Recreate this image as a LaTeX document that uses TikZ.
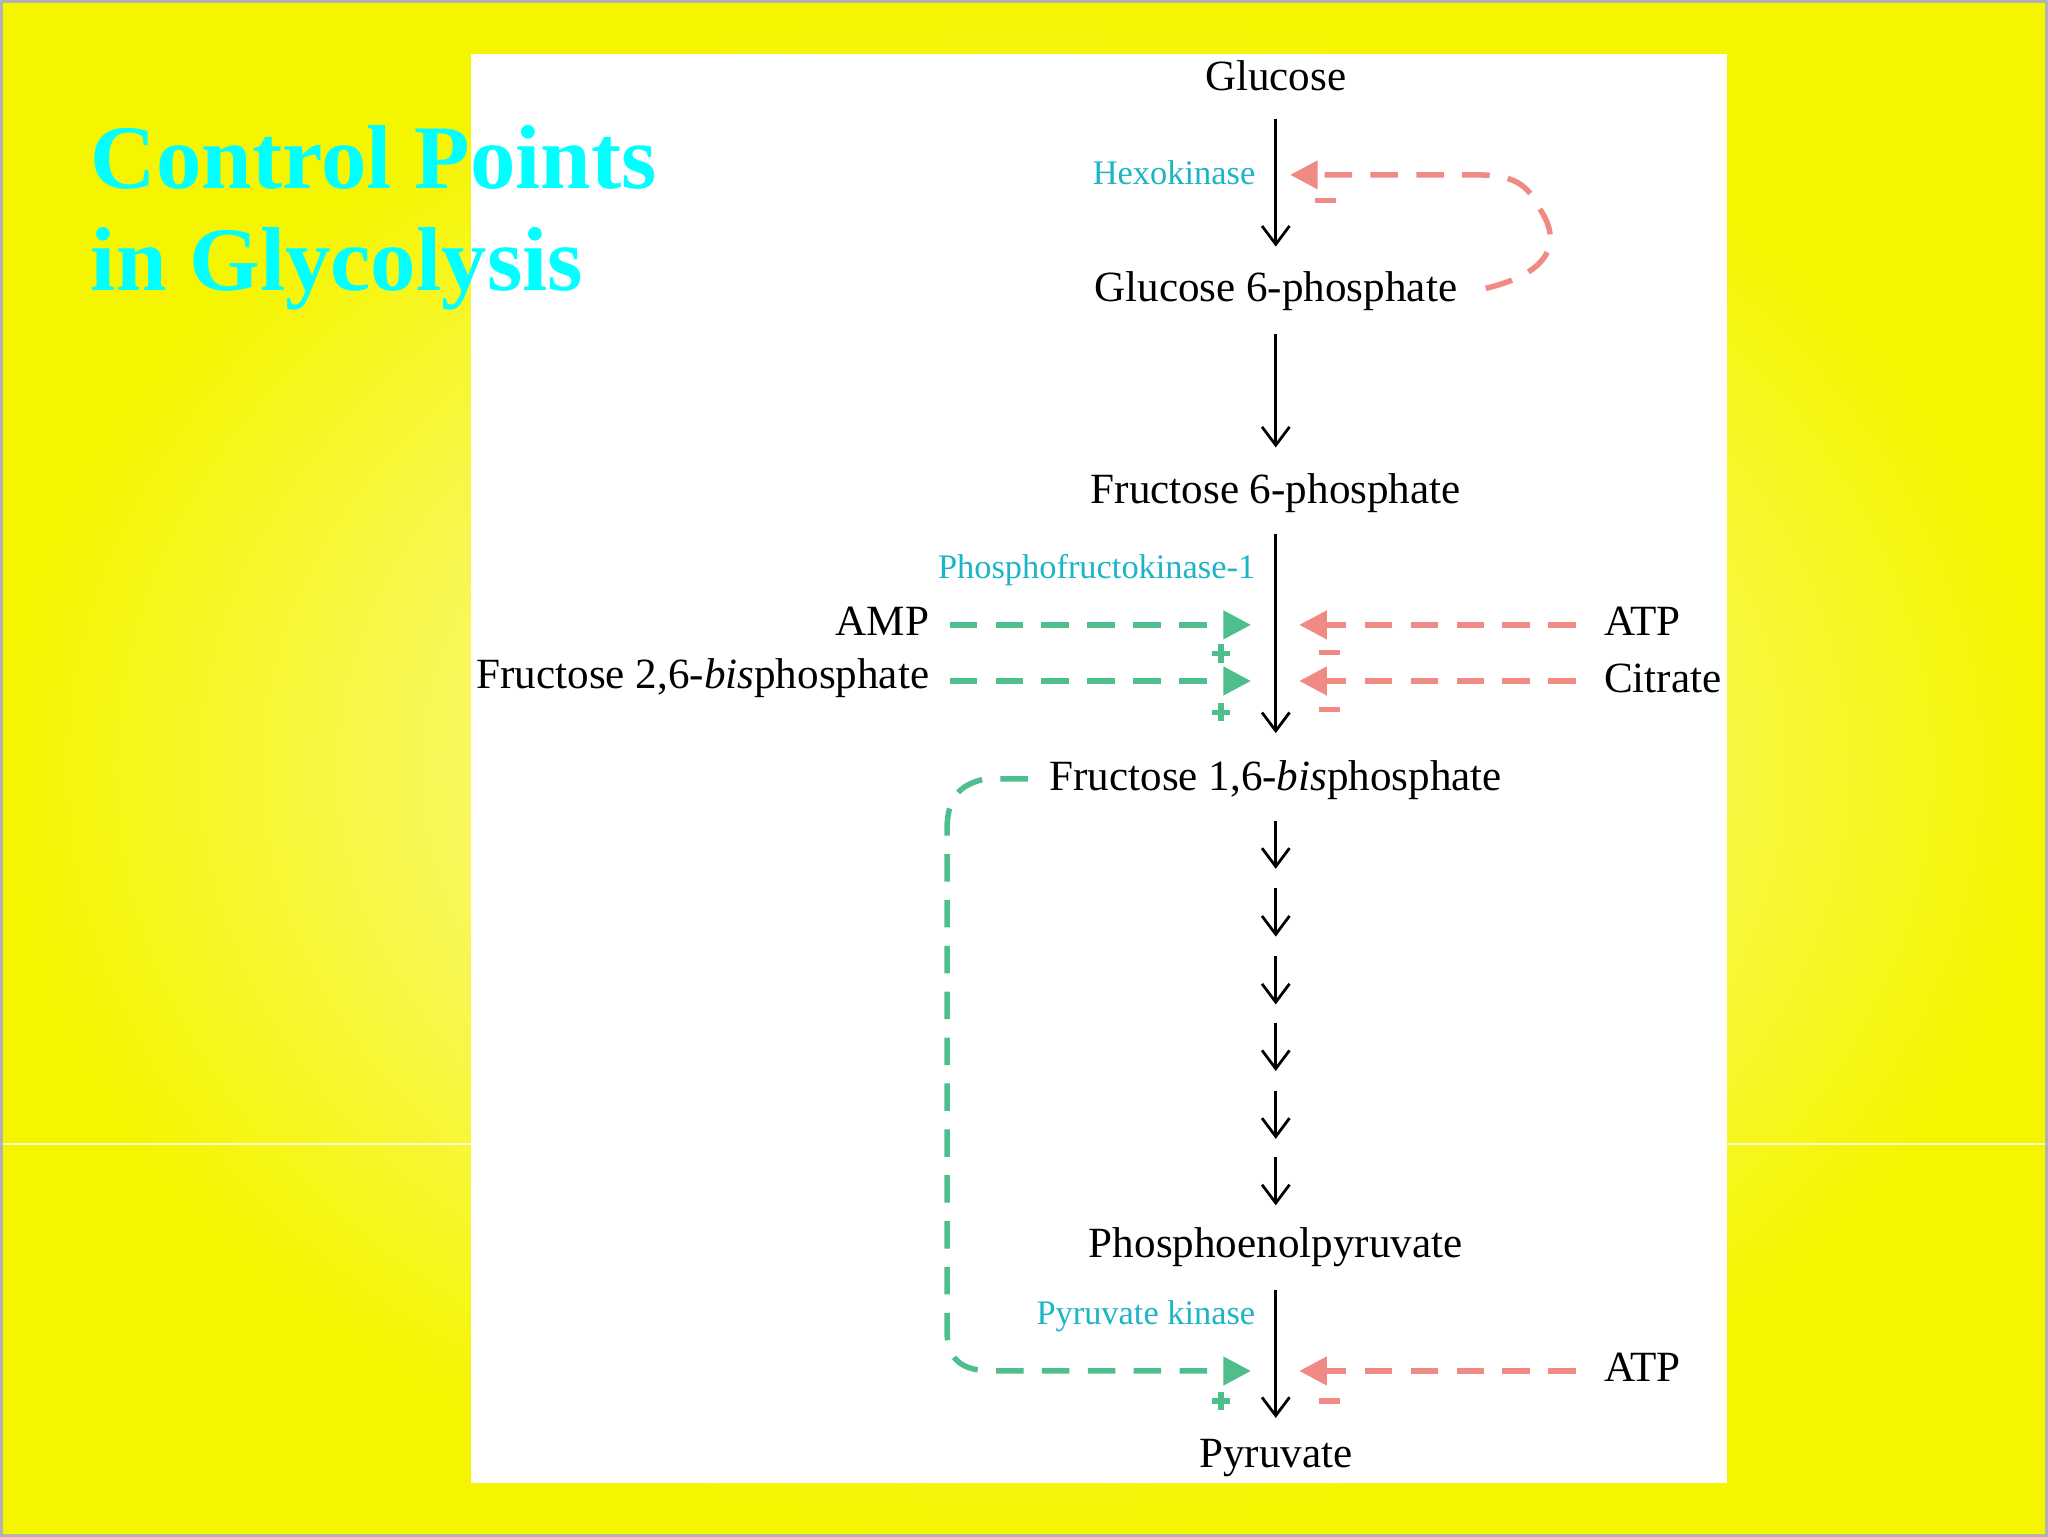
\documentclass[tikz,border=0pt]{standalone}
\usepackage{fontspec}
\setmainfont{Liberation Serif}
\usetikzlibrary{arrows.meta}
\definecolor{pinkr}{HTML}{F08A84}
\definecolor{greeng}{HTML}{4DBE8C}
\definecolor{cyant}{HTML}{1CB5C8}
\definecolor{titlec}{HTML}{00FFFF}
\definecolor{ylw}{HTML}{F5F500}
\definecolor{ylwl}{HTML}{FBFBD0}
\begin{document}
\begin{tikzpicture}[x=0.01cm,y=-0.01cm,
  lbl/.style={font=\fontsize{9.4}{11}\selectfont,inner sep=0pt},
  enz/.style={font=\fontsize{7.5}{9}\selectfont,text=cyant,inner sep=0pt},
  rx/.style={draw=black,line width=0.6pt,-{Straight Barb[length=4pt,width=6pt]}},
  inh/.style={draw=pinkr,line width=1.2pt,dash pattern=on 6pt off 4pt,-{Triangle[length=6pt,width=6pt]}},
  act/.style={draw=greeng,line width=1.2pt,dash pattern=on 6pt off 4pt,-{Triangle[length=6pt,width=6pt]}},
  sg/.style={line width=1.1pt}]
\shade[inner color=ylwl,outer color=ylw] (0,0) rectangle (1568,1176);
\draw[ylwl,line width=0.4pt] (0,876) -- (1568,876);
\draw[black!30,line width=0.6pt] (0,0) rectangle (1568,1176);
\fill[white] (360,40) rectangle (1323,1136);
\node[anchor=west,text=titlec,font=\bfseries\fontsize{19.8}{22}\selectfont,inner sep=0pt] (t1) at (68,120) {Control Points};
\node[anchor=west,text=titlec,font=\bfseries\fontsize{19.8}{22}\selectfont,inner sep=0pt] (t2) at (68,205) {in Glycolysis};
% metabolites
\node[lbl] (glc) at (977,57) {Glucose};
\node[lbl] (g6p) at (977,222) {Glucose 6-phosphate};
\node[lbl] (f6p) at (977,377) {Fructose 6-phosphate};
\node[lbl] (fbp) at (977,597) {Fructose 1,6-\textit{bis}phosphate};
\node[lbl] (pep) at (977,955) {Phosphoenolpyruvate};
\node[lbl] (pyr) at (977,1117) {Pyruvate};
\node[lbl,anchor=east] (amp) at (712,475) {AMP};
\node[lbl,anchor=east] (f26) at (712,519) {Fructose 2,6-\textit{bis}phosphate};
\node[lbl,anchor=west] (atp1) at (1228,475) {ATP};
\node[lbl,anchor=west] (cit) at (1228,519) {Citrate};
\node[lbl,anchor=west] (atp2) at (1228,1047) {ATP};
\node[enz,anchor=east] (hk) at (962,131) {Hexokinase};
\node[enz,anchor=east] (pfk) at (962,436) {Phosphofructokinase-1};
\node[enz,anchor=east] (pk) at (962,1008) {Pyruvate kinase};
% reaction arrows
\draw[rx] (977,90) -- (977,188);
\draw[rx] (977,255) -- (977,342);
\draw[rx] (977,408) -- (977,561);
\foreach \a in {628,680,732,783,835,886} \draw[rx] (977,\a) -- (977,\a+37);
\draw[rx] (977,988) -- (977,1086);
% regulation
\coordinate (ha) at (988,133);
\draw[inh] (1138,220) .. controls (1200,205) and (1190,175) .. (1180,160) .. controls (1170,140) and (1160,133) .. (1130,133) -- (ha);
\draw[inh] (1207,478) -- (995,478);
\draw[inh] (1207,521) -- (995,521);
\draw[inh] (1207,1050) -- (995,1050);
\draw[act] (727,478) -- (958,478);
\draw[act] (727,521) -- (958,521);
\draw[act] (787,596) -- (755,596) .. controls (735,600) and (725,610) .. (725,635) -- (725,1020) .. controls (725,1040) and (735,1050) .. (760,1050) -- (958,1050);
\foreach \x/\y/\n in {1015/153/m1,1018/499/m2,1018/543/m3,1018/1073/m4}{
  \coordinate (\n) at (\x,\y);
  \draw[sg,pinkr] ([xshift=-0.08cm]\n) -- ([xshift=0.08cm]\n);}
\foreach \x/\y/\n in {935/500/p1,935/545/p2,935/1073/p3}{
  \coordinate (\n) at (\x,\y);
  \draw[sg,greeng] ([xshift=-0.07cm]\n) -- ([xshift=0.07cm]\n) ([yshift=-0.07cm]\n) -- ([yshift=0.07cm]\n);}
\end{tikzpicture}
\end{document}
